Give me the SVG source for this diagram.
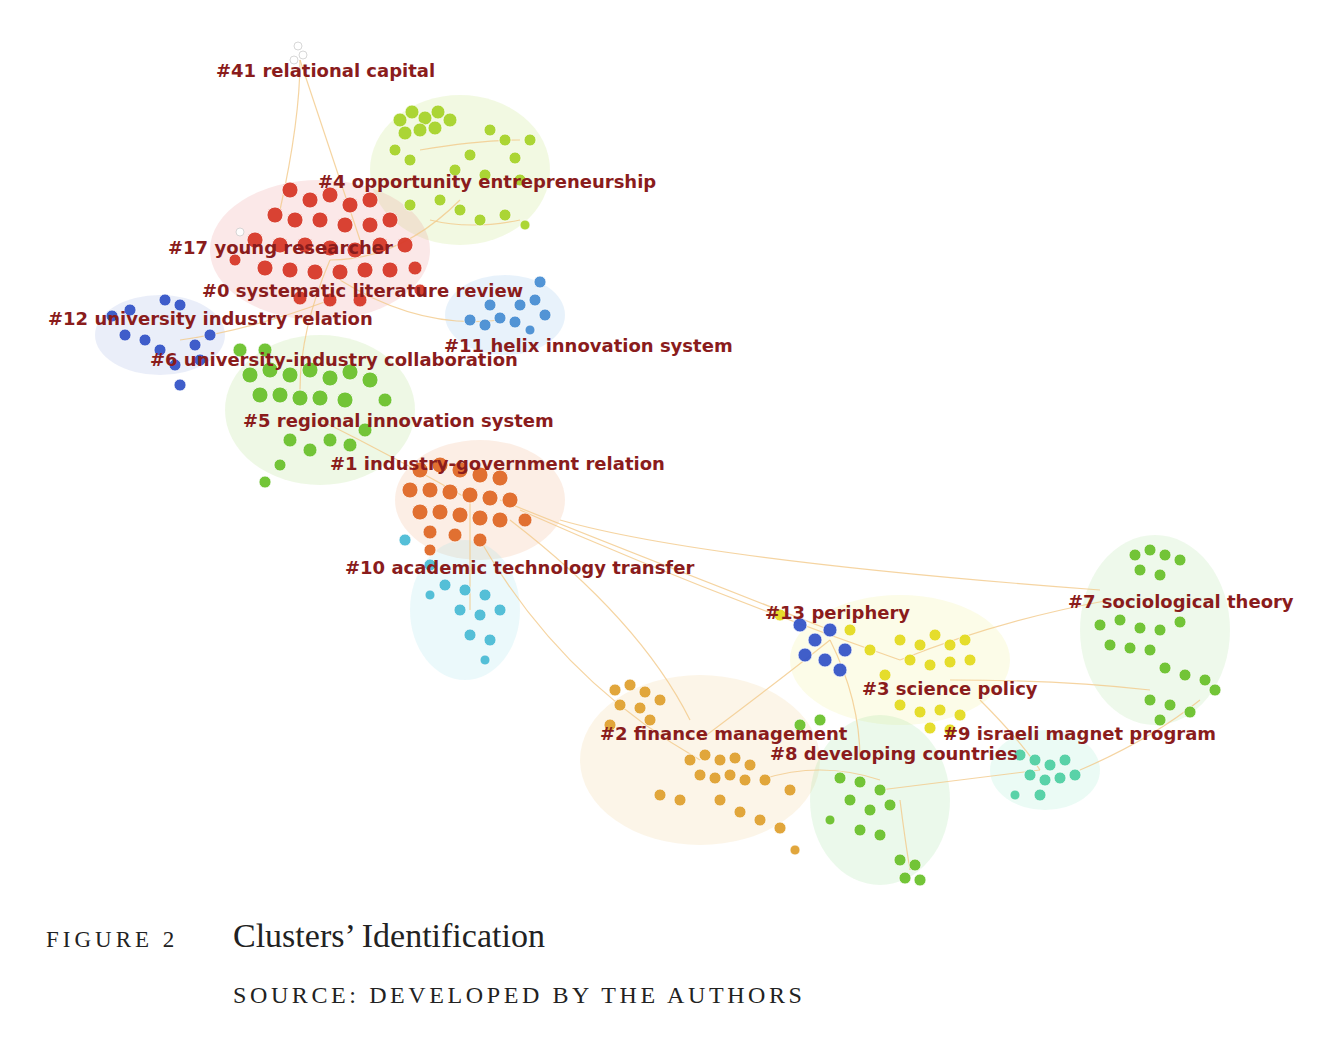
<svg xmlns="http://www.w3.org/2000/svg" width="1338" height="1049" viewBox="0 0 1338 1049">
<style>
.lb{font-family:"DejaVu Sans","Noto Sans",sans-serif;font-weight:bold;font-size:18px;fill:#8a1c1c}
.halo{opacity:0.18}
.e{fill:none;stroke:#f2c98a;stroke-width:1.2;opacity:0.8}
.n{stroke:#ffffff;stroke-width:0.8;opacity:0.95}
.r{fill:#d83a2a}.g{fill:#a8d42c}.gr{fill:#6cc22e}.b{fill:#3656c8}.lbl{fill:#4a90d4}.o{fill:#e06a28}.c{fill:#4cbcd6}.a{fill:#e0a232}.y{fill:#e4dc22}.t{fill:#52d0a4}.w{fill:#fff;stroke:#ccc}
.cap{font-family:"Liberation Serif",serif;fill:#222}
</style>
<rect width="1338" height="1049" fill="#fff"/>
<g id="halos">
<ellipse class="halo" cx="460" cy="170" rx="90" ry="75" fill="#b8e060"/>
<ellipse class="halo" cx="320" cy="250" rx="110" ry="70" fill="#e88080"/>
<ellipse class="halo" cx="160" cy="335" rx="65" ry="40" fill="#8aa0e0"/>
<ellipse class="halo" cx="505" cy="315" rx="60" ry="40" fill="#80b8e8"/>
<ellipse class="halo" cx="320" cy="410" rx="95" ry="75" fill="#9ed870"/>
<ellipse class="halo" cx="480" cy="500" rx="85" ry="60" fill="#f0a070"/>
<ellipse class="halo" cx="465" cy="610" rx="55" ry="70" fill="#90dbe8"/>
<ellipse class="halo" cx="700" cy="760" rx="120" ry="85" fill="#f0c880"/>
<ellipse class="halo" cx="900" cy="660" rx="110" ry="65" fill="#f0ec80"/>
<ellipse class="halo" cx="880" cy="800" rx="70" ry="85" fill="#90e090"/>
<ellipse class="halo" cx="1045" cy="770" rx="55" ry="40" fill="#90e8c8"/>
<ellipse class="halo" cx="1155" cy="630" rx="75" ry="95" fill="#a0e090"/>
</g>
<g id="connectors">
<path class="e" d="M300 60 Q330 150 360 240"/>
<path class="e" d="M300 60 Q300 120 280 210"/>
<path class="e" d="M460 200 Q400 260 330 260"/>
<path class="e" d="M330 260 Q300 330 300 390"/>
<path class="e" d="M180 340 Q250 330 330 300"/>
<path class="e" d="M500 320 Q420 330 340 280"/>
<path class="e" d="M320 420 Q400 460 470 500"/>
<path class="e" d="M470 500 Q470 560 470 610"/>
<path class="e" d="M500 500 Q650 560 830 630"/>
<path class="e" d="M510 520 Q640 620 690 720"/>
<path class="e" d="M520 510 Q700 590 900 660"/>
<path class="e" d="M480 540 Q560 680 700 760"/>
<path class="e" d="M700 740 Q780 680 830 640"/>
<path class="e" d="M760 780 Q820 760 880 780"/>
<path class="e" d="M900 660 Q1000 620 1110 600"/>
<path class="e" d="M950 680 Q1060 680 1150 690"/>
<path class="e" d="M980 700 Q1020 740 1040 770"/>
<path class="e" d="M880 790 Q960 780 1040 770"/>
<path class="e" d="M1080 770 Q1150 740 1200 700"/>
<path class="e" d="M900 800 Q905 840 910 870"/>
<path class="e" d="M830 640 Q860 700 860 760"/>
<path class="e" d="M560 520 Q700 560 1100 590"/>
<path class="e" d="M420 150 Q480 140 520 140"/>
<path class="e" d="M430 220 Q470 230 520 220"/>
</g>
<g id="c41"><circle class="n w" cx="298" cy="46" r="4"/><circle class="n w" cx="303" cy="55" r="4"/><circle class="n w" cx="294" cy="60" r="4"/><circle class="n w" cx="240" cy="232" r="4"/></g>
<g id="c4">
<circle class="n g" cx="400" cy="120" r="7"/><circle class="n g" cx="412" cy="112" r="7"/><circle class="n g" cx="425" cy="118" r="7"/><circle class="n g" cx="438" cy="112" r="7"/><circle class="n g" cx="450" cy="120" r="7"/><circle class="n g" cx="405" cy="133" r="7"/><circle class="n g" cx="420" cy="130" r="7"/><circle class="n g" cx="435" cy="128" r="7"/><circle class="n g" cx="395" cy="150" r="6"/><circle class="n g" cx="410" cy="160" r="6"/><circle class="n g" cx="490" cy="130" r="6"/><circle class="n g" cx="505" cy="140" r="6"/><circle class="n g" cx="515" cy="158" r="6"/><circle class="n g" cx="470" cy="155" r="6"/><circle class="n g" cx="455" cy="170" r="6"/><circle class="n g" cx="485" cy="175" r="6"/><circle class="n g" cx="520" cy="180" r="6"/><circle class="n g" cx="440" cy="200" r="6"/><circle class="n g" cx="460" cy="210" r="6"/><circle class="n g" cx="480" cy="220" r="6"/><circle class="n g" cx="505" cy="215" r="6"/><circle class="n g" cx="410" cy="205" r="6"/><circle class="n g" cx="525" cy="225" r="5"/><circle class="n g" cx="530" cy="140" r="6"/>
</g>
<g id="c0">
<circle class="n r" cx="290" cy="190" r="8"/><circle class="n r" cx="310" cy="200" r="8"/><circle class="n r" cx="330" cy="195" r="8"/><circle class="n r" cx="350" cy="205" r="8"/><circle class="n r" cx="370" cy="200" r="8"/><circle class="n r" cx="275" cy="215" r="8"/><circle class="n r" cx="295" cy="220" r="8"/><circle class="n r" cx="320" cy="220" r="8"/><circle class="n r" cx="345" cy="225" r="8"/><circle class="n r" cx="370" cy="225" r="8"/><circle class="n r" cx="390" cy="220" r="8"/><circle class="n r" cx="255" cy="240" r="8"/><circle class="n r" cx="280" cy="245" r="8"/><circle class="n r" cx="305" cy="245" r="8"/><circle class="n r" cx="330" cy="248" r="8"/><circle class="n r" cx="355" cy="250" r="8"/><circle class="n r" cx="380" cy="245" r="8"/><circle class="n r" cx="405" cy="245" r="8"/><circle class="n r" cx="265" cy="268" r="8"/><circle class="n r" cx="290" cy="270" r="8"/><circle class="n r" cx="315" cy="272" r="8"/><circle class="n r" cx="340" cy="272" r="8"/><circle class="n r" cx="365" cy="270" r="8"/><circle class="n r" cx="390" cy="270" r="8"/><circle class="n r" cx="415" cy="268" r="7"/><circle class="n r" cx="300" cy="298" r="7"/><circle class="n r" cx="330" cy="300" r="7"/><circle class="n r" cx="360" cy="300" r="7"/><circle class="n r" cx="420" cy="290" r="6"/><circle class="n r" cx="235" cy="260" r="6"/>
</g>
<g id="c12">
<circle class="n b" cx="112" cy="316" r="6"/><circle class="n b" cx="130" cy="310" r="6"/><circle class="n b" cx="125" cy="335" r="6"/><circle class="n b" cx="145" cy="340" r="6"/><circle class="n b" cx="165" cy="300" r="6"/><circle class="n b" cx="180" cy="305" r="6"/><circle class="n b" cx="160" cy="350" r="6"/><circle class="n b" cx="175" cy="365" r="6"/><circle class="n b" cx="195" cy="345" r="6"/><circle class="n b" cx="210" cy="335" r="6"/><circle class="n b" cx="180" cy="385" r="6"/><circle class="n b" cx="200" cy="360" r="6"/>
</g>
<g id="c11">
<circle class="n lbl" cx="470" cy="320" r="6"/><circle class="n lbl" cx="485" cy="325" r="6"/><circle class="n lbl" cx="500" cy="318" r="6"/><circle class="n lbl" cx="515" cy="322" r="6"/><circle class="n lbl" cx="490" cy="305" r="6"/><circle class="n lbl" cx="520" cy="305" r="6"/><circle class="n lbl" cx="535" cy="300" r="6"/><circle class="n lbl" cx="545" cy="315" r="6"/><circle class="n lbl" cx="540" cy="282" r="6"/><circle class="n lbl" cx="530" cy="330" r="5"/>
</g>
<g id="c5">
<circle class="n gr" cx="250" cy="375" r="8"/><circle class="n gr" cx="270" cy="370" r="8"/><circle class="n gr" cx="290" cy="375" r="8"/><circle class="n gr" cx="310" cy="370" r="8"/><circle class="n gr" cx="330" cy="378" r="8"/><circle class="n gr" cx="350" cy="372" r="8"/><circle class="n gr" cx="370" cy="380" r="8"/><circle class="n gr" cx="260" cy="395" r="8"/><circle class="n gr" cx="280" cy="395" r="8"/><circle class="n gr" cx="300" cy="398" r="8"/><circle class="n gr" cx="320" cy="398" r="8"/><circle class="n gr" cx="345" cy="400" r="8"/><circle class="n gr" cx="385" cy="400" r="7"/><circle class="n gr" cx="240" cy="350" r="7"/><circle class="n gr" cx="265" cy="350" r="7"/><circle class="n gr" cx="290" cy="440" r="7"/><circle class="n gr" cx="310" cy="450" r="7"/><circle class="n gr" cx="330" cy="440" r="7"/><circle class="n gr" cx="280" cy="465" r="6"/><circle class="n gr" cx="265" cy="482" r="6"/><circle class="n gr" cx="350" cy="445" r="7"/><circle class="n gr" cx="365" cy="430" r="7"/>
</g>
<g id="c1">
<circle class="n o" cx="420" cy="470" r="8"/><circle class="n o" cx="440" cy="465" r="8"/><circle class="n o" cx="460" cy="470" r="8"/><circle class="n o" cx="480" cy="475" r="8"/><circle class="n o" cx="500" cy="478" r="8"/><circle class="n o" cx="410" cy="490" r="8"/><circle class="n o" cx="430" cy="490" r="8"/><circle class="n o" cx="450" cy="492" r="8"/><circle class="n o" cx="470" cy="495" r="8"/><circle class="n o" cx="490" cy="498" r="8"/><circle class="n o" cx="510" cy="500" r="8"/><circle class="n o" cx="420" cy="512" r="8"/><circle class="n o" cx="440" cy="512" r="8"/><circle class="n o" cx="460" cy="515" r="8"/><circle class="n o" cx="480" cy="518" r="8"/><circle class="n o" cx="500" cy="520" r="8"/><circle class="n o" cx="525" cy="520" r="7"/><circle class="n o" cx="430" cy="532" r="7"/><circle class="n o" cx="455" cy="535" r="7"/><circle class="n o" cx="480" cy="540" r="7"/><circle class="n o" cx="430" cy="550" r="6"/>
</g>
<g id="c10">
<circle class="n c" cx="405" cy="540" r="6"/><circle class="n c" cx="430" cy="565" r="6"/><circle class="n c" cx="445" cy="585" r="6"/><circle class="n c" cx="465" cy="590" r="6"/><circle class="n c" cx="485" cy="595" r="6"/><circle class="n c" cx="460" cy="610" r="6"/><circle class="n c" cx="480" cy="615" r="6"/><circle class="n c" cx="500" cy="610" r="6"/><circle class="n c" cx="470" cy="635" r="6"/><circle class="n c" cx="490" cy="640" r="6"/><circle class="n c" cx="430" cy="595" r="5"/><circle class="n c" cx="485" cy="660" r="5"/>
</g>
<g id="c2">
<circle class="n a" cx="615" cy="690" r="6"/><circle class="n a" cx="630" cy="685" r="6"/><circle class="n a" cx="645" cy="692" r="6"/><circle class="n a" cx="620" cy="705" r="6"/><circle class="n a" cx="640" cy="708" r="6"/><circle class="n a" cx="660" cy="700" r="6"/><circle class="n a" cx="610" cy="725" r="6"/><circle class="n a" cx="650" cy="720" r="6"/><circle class="n a" cx="690" cy="760" r="6"/><circle class="n a" cx="705" cy="755" r="6"/><circle class="n a" cx="720" cy="760" r="6"/><circle class="n a" cx="735" cy="758" r="6"/><circle class="n a" cx="750" cy="765" r="6"/><circle class="n a" cx="700" cy="775" r="6"/><circle class="n a" cx="715" cy="778" r="6"/><circle class="n a" cx="730" cy="775" r="6"/><circle class="n a" cx="745" cy="780" r="6"/><circle class="n a" cx="765" cy="780" r="6"/><circle class="n a" cx="660" cy="795" r="6"/><circle class="n a" cx="680" cy="800" r="6"/><circle class="n a" cx="720" cy="800" r="6"/><circle class="n a" cx="740" cy="812" r="6"/><circle class="n a" cx="760" cy="820" r="6"/><circle class="n a" cx="780" cy="828" r="6"/><circle class="n a" cx="790" cy="790" r="6"/><circle class="n a" cx="795" cy="850" r="5"/>
</g>
<g id="c13">
<circle class="n b" cx="800" cy="625" r="7"/><circle class="n b" cx="815" cy="640" r="7"/><circle class="n b" cx="830" cy="630" r="7"/><circle class="n b" cx="805" cy="655" r="7"/><circle class="n b" cx="825" cy="660" r="7"/><circle class="n b" cx="845" cy="650" r="7"/><circle class="n b" cx="840" cy="670" r="7"/>
</g>
<g id="c3">
<circle class="n y" cx="780" cy="615" r="6"/><circle class="n y" cx="850" cy="630" r="6"/><circle class="n y" cx="870" cy="650" r="6"/><circle class="n y" cx="900" cy="640" r="6"/><circle class="n y" cx="920" cy="645" r="6"/><circle class="n y" cx="935" cy="635" r="6"/><circle class="n y" cx="950" cy="645" r="6"/><circle class="n y" cx="965" cy="640" r="6"/><circle class="n y" cx="910" cy="660" r="6"/><circle class="n y" cx="930" cy="665" r="6"/><circle class="n y" cx="950" cy="662" r="6"/><circle class="n y" cx="970" cy="660" r="6"/><circle class="n y" cx="885" cy="675" r="6"/><circle class="n y" cx="900" cy="705" r="6"/><circle class="n y" cx="920" cy="712" r="6"/><circle class="n y" cx="940" cy="710" r="6"/><circle class="n y" cx="960" cy="715" r="6"/><circle class="n y" cx="930" cy="728" r="6"/><circle class="n y" cx="950" cy="730" r="6"/>
</g>
<g id="c8">
<circle class="n gr" cx="800" cy="725" r="6"/><circle class="n gr" cx="820" cy="720" r="6"/><circle class="n gr" cx="840" cy="778" r="6"/><circle class="n gr" cx="860" cy="782" r="6"/><circle class="n gr" cx="880" cy="790" r="6"/><circle class="n gr" cx="850" cy="800" r="6"/><circle class="n gr" cx="870" cy="810" r="6"/><circle class="n gr" cx="890" cy="805" r="6"/><circle class="n gr" cx="860" cy="830" r="6"/><circle class="n gr" cx="880" cy="835" r="6"/><circle class="n gr" cx="900" cy="860" r="6"/><circle class="n gr" cx="915" cy="865" r="6"/><circle class="n gr" cx="905" cy="878" r="6"/><circle class="n gr" cx="920" cy="880" r="6"/><circle class="n gr" cx="830" cy="820" r="5"/>
</g>
<g id="c9">
<circle class="n t" cx="1020" cy="755" r="6"/><circle class="n t" cx="1035" cy="760" r="6"/><circle class="n t" cx="1050" cy="765" r="6"/><circle class="n t" cx="1065" cy="760" r="6"/><circle class="n t" cx="1030" cy="775" r="6"/><circle class="n t" cx="1045" cy="780" r="6"/><circle class="n t" cx="1060" cy="778" r="6"/><circle class="n t" cx="1075" cy="775" r="6"/><circle class="n t" cx="1040" cy="795" r="6"/><circle class="n t" cx="1015" cy="795" r="5"/>
</g>
<g id="c7">
<circle class="n gr" cx="1135" cy="555" r="6"/><circle class="n gr" cx="1150" cy="550" r="6"/><circle class="n gr" cx="1165" cy="555" r="6"/><circle class="n gr" cx="1180" cy="560" r="6"/><circle class="n gr" cx="1140" cy="570" r="6"/><circle class="n gr" cx="1160" cy="575" r="6"/><circle class="n gr" cx="1100" cy="625" r="6"/><circle class="n gr" cx="1120" cy="620" r="6"/><circle class="n gr" cx="1140" cy="628" r="6"/><circle class="n gr" cx="1160" cy="630" r="6"/><circle class="n gr" cx="1180" cy="622" r="6"/><circle class="n gr" cx="1110" cy="645" r="6"/><circle class="n gr" cx="1130" cy="648" r="6"/><circle class="n gr" cx="1150" cy="650" r="6"/><circle class="n gr" cx="1165" cy="668" r="6"/><circle class="n gr" cx="1185" cy="675" r="6"/><circle class="n gr" cx="1205" cy="680" r="6"/><circle class="n gr" cx="1215" cy="690" r="6"/><circle class="n gr" cx="1150" cy="700" r="6"/><circle class="n gr" cx="1170" cy="705" r="6"/><circle class="n gr" cx="1190" cy="712" r="6"/><circle class="n gr" cx="1160" cy="720" r="6"/>
</g>
<g id="labels">
<text class="lb" x="216" y="77">#41 relational capital</text>
<text class="lb" x="318" y="188">#4 opportunity entrepreneurship</text>
<text class="lb" x="168" y="254">#17 young researcher</text>
<text class="lb" x="202" y="297">#0 systematic literature review</text>
<text class="lb" x="48" y="325">#12 university industry relation</text>
<text class="lb" x="444" y="352">#11 helix innovation system</text>
<text class="lb" x="150" y="366">#6 university-industry collaboration</text>
<text class="lb" x="243" y="427">#5 regional innovation system</text>
<text class="lb" x="330" y="470">#1 industry-government relation</text>
<text class="lb" x="345" y="574">#10 academic technology transfer</text>
<text class="lb" x="765" y="619">#13 periphery</text>
<text class="lb" x="1068" y="608">#7 sociological theory</text>
<text class="lb" x="862" y="695">#3 science policy</text>
<text class="lb" x="600" y="740">#2 finance management</text>
<text class="lb" x="943" y="740">#9 israeli magnet program</text>
<text class="lb" x="770" y="760">#8 developing countries</text>
</g>
<g id="caption">
<text class="cap" x="46" y="947" font-size="23" letter-spacing="4">FIGURE 2</text>
<text class="cap" x="233" y="947" font-size="34">Clusters’ Identification</text>
<text class="cap" x="233" y="1003" font-size="24" letter-spacing="3.6">SOURCE: DEVELOPED BY THE AUTHORS</text>
</g>
</svg>
